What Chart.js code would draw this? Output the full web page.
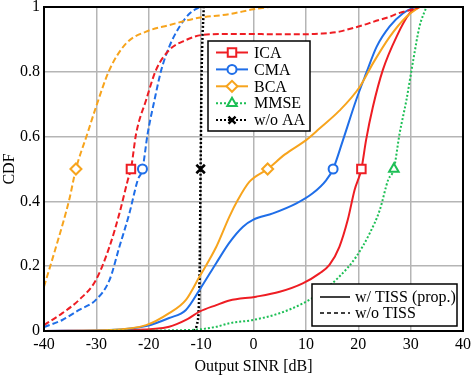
<!DOCTYPE html>
<html>
<head>
<meta charset="utf-8">
<script src="https://cdn.jsdelivr.net/npm/chart.js@4.4.1/dist/chart.umd.min.js"></script>
<style>
  html, body { margin: 0; padding: 0; background: #fff; }
  #wrap { width: 474px; height: 376px; }
</style>
</head>
<body>
<div id="wrap"><canvas id="cdfChart" width="474" height="376"></canvas></div>
<script>
// Output SINR [dB] (x) vs CDF (y)
const icaSolidX = [-40, -23.7, -16.1, -12.9, -10.3, -7.1, -4.6, 0.5, 5, 9.4, 12.6, 14.5, 16.4, 18, 19.3, 20.6, 21.5, 22.8, 24.7, 27.3, 29.8, 31.7];
const icaSolidY = [0, 0.003, 0.013, 0.034, 0.06, 0.08, 0.094, 0.106, 0.121, 0.147, 0.178, 0.204, 0.26, 0.343, 0.435, 0.5, 0.59, 0.692, 0.806, 0.908, 0.98, 1];
const icaDashX = [-40, -36.5, -33.3, -30.1, -27.5, -25.6, -24, -23.4, -22.4, -20.5, -18.6, -16.1, -12.9, -9.7, -4.6, 5, 10.1, 13, 16.4, 18.3, 20.9, 23, 26, 27.9, 29.8, 31.7];
const icaDashY = [0.018, 0.055, 0.096, 0.157, 0.26, 0.363, 0.466, 0.5, 0.61, 0.713, 0.806, 0.867, 0.898, 0.914, 0.917, 0.916, 0.916, 0.918, 0.924, 0.932, 0.944, 0.955, 0.97, 0.982, 0.99, 1];

const cmaSolidX = [-40, -27.5, -20.5, -16.1, -12.9, -10.3, -7.1, -4.6, -2, -0.1, 3.7, 8.2, 11.3, 13.9, 15.2, 17.1, 19.6, 21.5, 23.5, 26, 28.5, 30.8];
const cmaSolidY = [0, 0.003, 0.015, 0.04, 0.065, 0.127, 0.21, 0.273, 0.322, 0.343, 0.363, 0.394, 0.425, 0.466, 0.5, 0.59, 0.713, 0.795, 0.877, 0.94, 0.98, 1];
const cmaDashX = [-40, -36.5, -33.3, -30.1, -27.5, -25.6, -23.7, -22.1, -21.2, -20.2, -18.9, -17.6, -16.1, -14.1, -12.2, -10.3];
const cmaDashY = [0.012, 0.034, 0.065, 0.096, 0.157, 0.26, 0.363, 0.466, 0.5, 0.61, 0.713, 0.806, 0.877, 0.94, 0.98, 1];

const bcaSolidX = [-40, -27.5, -20.5, -16.1, -12.9, -10.3, -7.1, -4.6, -3, -0.8, 2.7, 6, 10.1, 12.6, 16.4, 20.3, 22.8, 26, 29.2, 31.7];
const bcaSolidY = [0, 0.003, 0.018, 0.055, 0.096, 0.168, 0.26, 0.353, 0.404, 0.46, 0.5, 0.545, 0.59, 0.625, 0.68, 0.754, 0.826, 0.908, 0.97, 1];
const bcaDashX = [-40, -37.7, -35.2, -33.9, -31.7, -30.1, -27.5, -24.3, -20.5, -16.1, -11, -4.6, 0, 3];
const bcaDashY = [0.137, 0.26, 0.404, 0.5, 0.61, 0.69, 0.806, 0.888, 0.924, 0.944, 0.965, 0.978, 0.993, 1];

const mmseX = [-40, -12.2, -7.1, -4.6, -0.1, 5, 9.4, 12.6, 16.4, 19.6, 22.2, 24.1, 25.7, 26.8, 27.9, 29.2, 30.5, 31.7, 33];
const mmseY = [0, 0.003, 0.013, 0.024, 0.034, 0.055, 0.085, 0.116, 0.168, 0.229, 0.302, 0.373, 0.466, 0.5, 0.61, 0.713, 0.836, 0.94, 1];

const noAAX = [-11.4, -10.8, -10.3, -10.1, -9.9, -9.5];
const noAAY = [0, 0.02, 0.16, 0.5, 0.8, 1];

const xTicks = [-40, -30, -20, -10, 0, 10, 20, 30, 40];
const yTicks = [0, 0.2, 0.4, 0.6, 0.8, 1];

const methodNames = ['ICA', 'CMA', 'BCA', 'MMSE', 'w/o AA'];
const styleNames = ['w/ TISS (prop.)', 'w/o TISS'];

const RED = '#ee1d23';
const BLUE = '#1f6ee8';
const ORANGE = '#f7a41d';
const GREEN = '#1dbf55';
const BLACK = '#000000';
const FONT = "'Liberation Serif', 'Times New Roman', serif";

const DASH = [6, 3];
const DOT = [2, 2];

const markerAt = v => ctx => (ctx.raw && ctx.raw.y === 0.5 ? v : 0);
const pts = (xs, ys) => xs.map((x, i) => ({ x, y: ys[i] }));

function curve(xs, ys, color, marker, size, dash, width = 2) {
  return {
    data: pts(xs, ys),
    showLine: true,
    borderColor: color,
    backgroundColor: '#ffffff',
    borderWidth: width,
    segment: { borderDash: () => dash },
    cubicInterpolationMode: 'monotone',
    pointStyle: marker,
    pointRadius: markerAt(size),
    pointHoverRadius: markerAt(size),
    pointBorderColor: color,
    pointBackgroundColor: '#ffffff',
    pointBorderWidth: width,
    borderJoinStyle: 'round'
  };
}

const datasets = [
  curve(bcaDashX, bcaDashY, ORANGE, 'rectRot', 5.5, DASH),
  curve(icaDashX, icaDashY, RED, 'rect', 6, DASH),
  curve(cmaDashX, cmaDashY, BLUE, 'circle', 4.5, DASH),
  curve(mmseX, mmseY, GREEN, 'triangle', 5.5, DOT),
  curve(bcaSolidX, bcaSolidY, ORANGE, 'rectRot', 5.5, []),
  curve(cmaSolidX, cmaSolidY, BLUE, 'circle', 4.5, []),
  curve(icaSolidX, icaSolidY, RED, 'rect', 6, []),
  curve(noAAX, noAAY, BLACK, 'crossRot', 6, DOT, 2.5)
];

const legendMarks = [
  { color: RED, style: 'rect', r: 6, dash: [] },
  { color: BLUE, style: 'circle', r: 4.5, dash: [] },
  { color: ORANGE, style: 'rectRot', r: 5.5, dash: [] },
  { color: GREEN, style: 'triangle', r: 5.5, dash: DOT },
  { color: BLACK, style: 'crossRot', r: 5, dash: DOT }
];

const frameAndLegends = {
  id: 'frameAndLegends',
  afterDraw(chart) {
    const { ctx, chartArea: a } = chart;
    ctx.save();
    // plot frame
    ctx.strokeStyle = '#000';
    ctx.lineWidth = 2;
    ctx.strokeRect(a.left, a.top, a.right - a.left, a.bottom - a.top);

    ctx.font = '16px ' + FONT;
    ctx.textBaseline = 'middle';
    ctx.textAlign = 'left';

    // method legend
    let bx = 208, by = 41, bw = 102, bh = 90;
    ctx.fillStyle = '#fff';
    ctx.fillRect(bx, by, bw, bh);
    ctx.lineWidth = 1.5;
    ctx.strokeStyle = '#000';
    ctx.strokeRect(bx, by, bw, bh);
    methodNames.forEach((name, i) => {
      const m = legendMarks[i];
      const y = 52.5 + i * 16.9;
      ctx.strokeStyle = m.color;
      ctx.lineWidth = 2;
      ctx.setLineDash(m.dash);
      ctx.beginPath();
      ctx.moveTo(216, y);
      ctx.lineTo(248, y);
      ctx.stroke();
      ctx.setLineDash([]);
      ctx.fillStyle = '#fff';
      ctx.strokeStyle = m.color;
      ctx.lineWidth = i === 4 ? 2.5 : 2;
      Chart.helpers.drawPoint(ctx, { pointStyle: m.style, radius: m.r, rotation: 0, borderWidth: 2 }, 232, y);
      ctx.fillStyle = '#000';
      ctx.fillText(name, 254, y + 1);
    });

    // line-style legend
    bx = 312; by = 284; bw = 145; bh = 42;
    ctx.fillStyle = '#fff';
    ctx.fillRect(bx, by, bw, bh);
    ctx.lineWidth = 1.5;
    ctx.strokeStyle = '#000';
    ctx.strokeRect(bx, by, bw, bh);
    styleNames.forEach((name, i) => {
      const y = 297 + i * 16;
      ctx.strokeStyle = '#000';
      ctx.lineWidth = 1.5;
      ctx.setLineDash(i === 0 ? [] : [4, 3]);
      ctx.beginPath();
      ctx.moveTo(320, y);
      ctx.lineTo(350, y);
      ctx.stroke();
      ctx.setLineDash([]);
      ctx.fillStyle = '#000';
      ctx.fillText(name, 355, y + 1);
    });
    ctx.restore();
  }
};

new Chart(document.getElementById('cdfChart'), {
  type: 'scatter',
  data: { datasets },
  options: {
    responsive: false,
    animation: false,
    devicePixelRatio: 1,
    layout: { padding: { top: 7, right: 11, left: 0, bottom: 0 } },
    plugins: { legend: { display: false }, tooltip: { enabled: false } },
    scales: {
      x: {
        type: 'linear',
        min: -40,
        max: 40,
        afterBuildTicks: s => { s.ticks = xTicks.map(v => ({ value: v })); },
        afterFit: s => { s.height = 45; s.paddingLeft = 0; s.paddingRight = 0; },
        ticks: {
          color: '#000',
          font: { family: FONT, size: 16 },
          padding: 4,
          maxRotation: 0,
          callback: v => String(v)
        },
        grid: { color: '#b5b5b5', lineWidth: 1.5, drawTicks: false },
        border: { display: false },
        title: {
          display: true,
          text: 'Output SINR [dB]',
          color: '#000',
          font: { family: FONT, size: 16 },
          padding: { top: 0, bottom: 0 }
        }
      },
      y: {
        min: 0,
        max: 1,
        afterBuildTicks: s => { s.ticks = yTicks.map(v => ({ value: v })); },
        afterFit: s => { s.width = 44; s.paddingTop = 0; s.paddingBottom = 0; },
        ticks: {
          color: '#000',
          font: { family: FONT, size: 16 },
          padding: 4,
          callback: v => String(v)
        },
        grid: { color: '#b5b5b5', lineWidth: 1.5, drawTicks: false },
        border: { display: false },
        title: {
          display: true,
          text: 'CDF',
          color: '#000',
          font: { family: FONT, size: 16 },
          padding: { top: 0, bottom: 0 }
        }
      }
    }
  },
  plugins: [frameAndLegends]
});
</script>
</body>
</html>
